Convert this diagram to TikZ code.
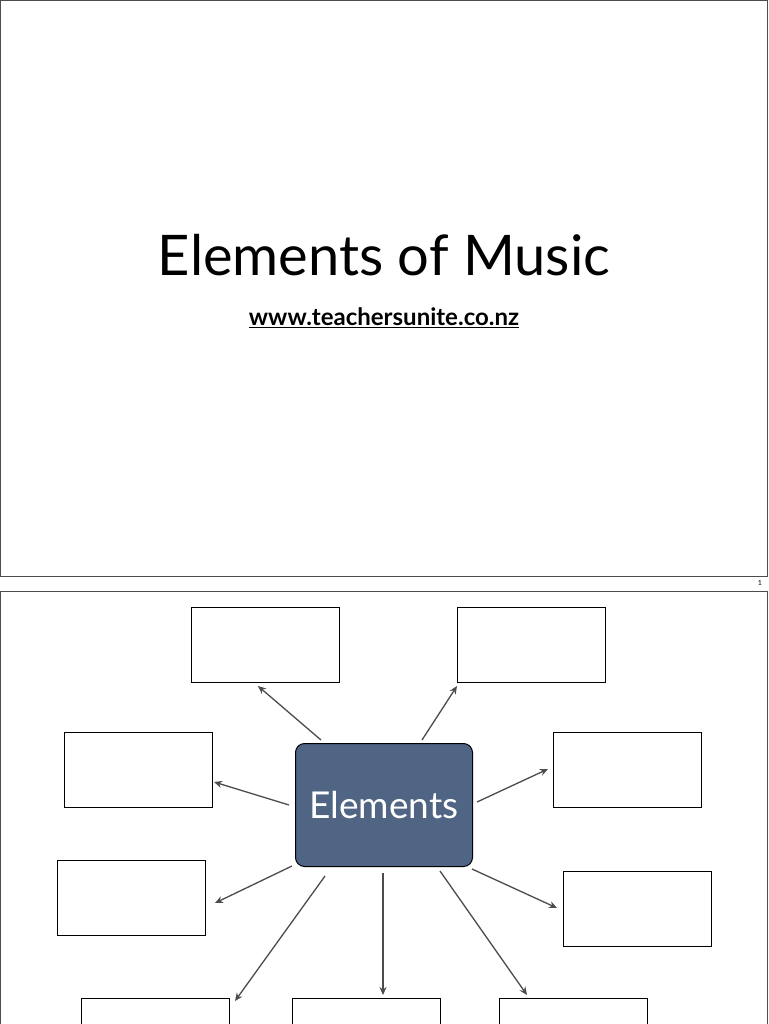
\documentclass[tikz,border=0pt]{standalone}
\usepackage{fontspec}
\setmainfont{Lato}
\usetikzlibrary{arrows.meta}
\begin{document}
\begin{tikzpicture}[x=1pt,y=-1pt,
  slide/.style={draw=black!70,line width=0.8pt},
  ebox/.style={draw=black,line width=1.2pt,minimum width=148pt,minimum height=75pt,anchor=north west,inner sep=0},
  arr/.style={draw=black!70,line width=1.3pt,-{Stealth[length=8pt,width=7pt]}}]
\useasboundingbox (0,0) rectangle (768,1024);
\fill[white] (0,0) rectangle (768,1024);
\draw[slide] (0.5,0.5) rectangle (767.5,576);
\draw[slide] (0.5,591) -- (0.5,1030) (0.5,591) -- (767.5,591) -- (767.5,1030);
\node[font=\fontsize{56}{60}\selectfont] (title) at (384,255) {Elements of Music};
\node[font=\bfseries\fontsize{24}{28}\selectfont] (url) at (384,318) {\underline{www.teachersunite.co.nz}};
\node[font=\fontsize{7}{8}\selectfont] (pg) at (760,583) {1};
\node[draw=black,line width=1pt,rounded corners=9pt,fill={rgb,255:red,80;green,101;blue,132},
  minimum width=177pt,minimum height=123pt,anchor=north west,inner sep=0] (c) at (295,743) {};
\node[text=white,font=\fontsize{37}{40}\selectfont] (ct) at (384,805) {Elements};
\node[ebox] (b1) at (191,607) {};
\node[ebox] (b2) at (457,607) {};
\node[ebox] (b3) at (64,732) {};
\node[ebox] (b4) at (553,732) {};
\node[ebox] (b5) at (57,860) {};
\node[ebox] (b6) at (563,871) {};
\node[ebox] (b7) at (81,998) {};
\node[ebox] (b8) at (292,998) {};
\node[ebox] (b9) at (499,998) {};
\coordinate (s1) at (321,740); \coordinate (e1) at (258,686);
\coordinate (s2) at (422,740); \coordinate (e2) at (457,686);
\coordinate (s3) at (289,805); \coordinate (e3) at (214,782);
\coordinate (s4) at (477,802); \coordinate (e4) at (548,769);
\coordinate (s5) at (292,866); \coordinate (e5) at (215,903);
\coordinate (s6) at (472,869); \coordinate (e6) at (557,908);
\coordinate (s7) at (325,876); \coordinate (e7) at (235,1001);
\coordinate (s8) at (383,873); \coordinate (e8) at (383,995);
\coordinate (s9) at (440,871); \coordinate (e9) at (527,995);
\foreach \i in {1,...,9} \draw[arr] (s\i) -- (e\i);
\end{tikzpicture}
\end{document}
